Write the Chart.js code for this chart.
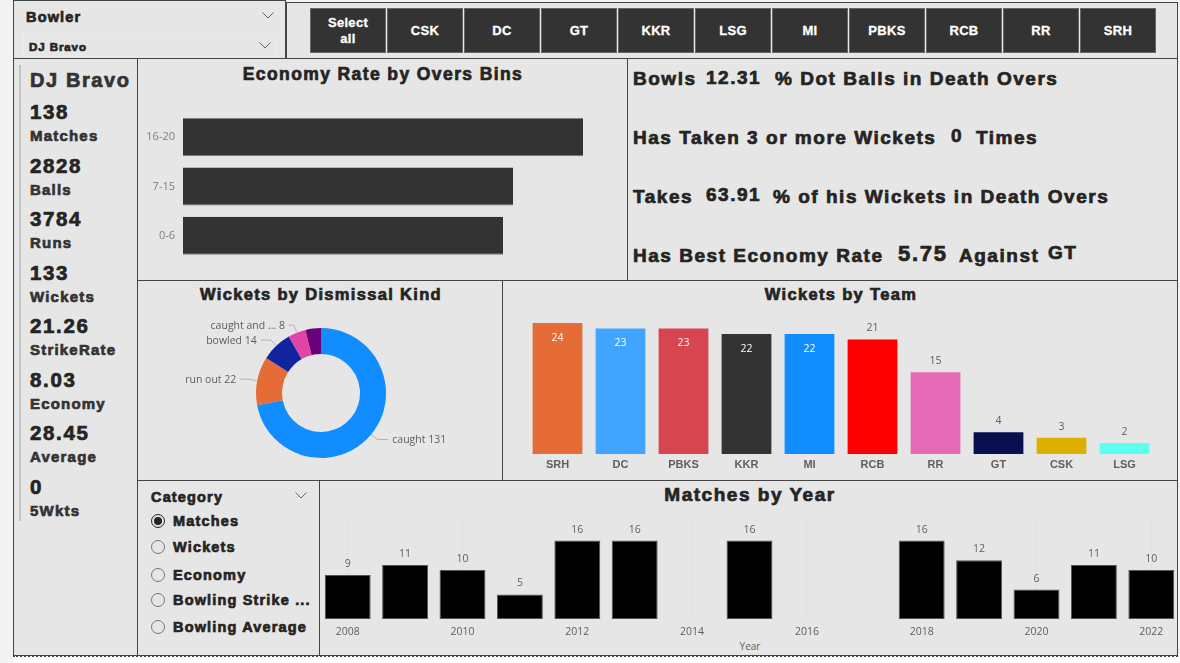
<!DOCTYPE html>
<html>
<head>
<meta charset="utf-8">
<title>DJ Bravo</title>
<script src="https://cdn.jsdelivr.net/npm/chart.js@4"></script>
<style>
html, body { margin: 0; padding: 0; background: #f3f3f2; width: 1180px; height: 663px; overflow: hidden; }
#page { position: absolute; left: 0; top: 0; width: 1180px; height: 663px; font-family: "Liberation Sans", Arial, sans-serif; color: #252423; }
.panel { position: absolute; background: #e6e6e6; border: 1.5px solid #444; box-sizing: border-box; }
.t { position: absolute; white-space: nowrap; font-weight: bold; -webkit-text-stroke: 0.7px currentColor; transform: translateY(-50%); letter-spacing: 0.08em; }
.c { transform: translate(-50%, -50%); }
.btn { position: absolute; top: 8px; height: 45px; background: #333; border: 1px solid #666; box-sizing: border-box; color: #fff; font-weight: bold; font-size: 13px; -webkit-text-stroke: 0.3px #fff; display: flex; align-items: center; justify-content: center; text-align: center; line-height: 16px; letter-spacing: 0.3px; padding: 0 14px; }
.radio { position: absolute; width: 14px; height: 14px; border: 1px solid #777; border-radius: 50%; box-sizing: border-box; }
canvas { position: absolute; }
.chev { position: absolute; width: 12px; height: 7px; }
</style>
</head>
<body>
<div id="page"></div>
<script>
// values
const playerName = 'DJ Bravo';
const kpiValues = ['138', '2828', '3784', '133', '21.26', '8.03', '28.45', '0'];
const kpiLabels = ['Matches', 'Balls', 'Runs', 'Wickets', 'StrikeRate', 'Economy', 'Average', '5Wkts'];
const teamButtons = ['Select all', 'CSK', 'DC', 'GT', 'KKR', 'LSG', 'MI', 'PBKS', 'RCB', 'RR', 'SRH'];
const categoryOptions = ['Matches', 'Wickets', 'Economy', 'Bowling Strike ...', 'Bowling Average'];

const overBins = ['16-20', '7-15', '0-6'];
const overEconomy = [9.6, 7.92, 7.68];

const dismissalKinds = ['caught', 'run out', 'bowled', 'caught and ...', 'lbw'];
const dismissalWickets = [131, 22, 14, 8, 7];
const dismissalColors = ['#118DFF', '#E66C37', '#12239E', '#E044A7', '#6B007B'];

const teams = ['SRH', 'DC', 'PBKS', 'KKR', 'MI', 'RCB', 'RR', 'GT', 'CSK', 'LSG'];
const teamWickets = [24, 23, 23, 22, 22, 21, 15, 4, 3, 2];
const teamColors = ['#E66C37', '#41A5FF', '#D64550', '#333333', '#118DFF', '#FF0000', '#E66BB7', '#0A0F50', '#DDB000', '#5CFFF0'];

const years = ['2008', '2009', '2010', '2011', '2012', '2013', '2014', '2015', '2016', '2017', '2018', '2019', '2020', '2021', '2022'];
const yearMatches = [9, 11, 10, 5, 16, 16, null, 16, null, null, 16, 12, 6, 11, 10];

const page = document.getElementById('page');

function panel(x, y, w, h) {
    const d = document.createElement('div');
    d.className = 'panel';
    d.style.cssText = `left:${x}px;top:${y}px;width:${w}px;height:${h}px`;
    page.appendChild(d);
}

function text(str, x, y, size, center, color) {
    const d = document.createElement('div');
    d.className = center ? 't c' : 't';
    d.textContent = str;
    d.style.cssText = `left:${x}px;top:${y}px;font-size:${size}px` + (color ? `;color:${color}` : '');
    page.appendChild(d);
    return d;
}

function chevron(x, y) {
    const s = document.createElementNS('http://www.w3.org/2000/svg', 'svg');
    s.setAttribute('class', 'chev');
    s.style.left = x + 'px';
    s.style.top = y + 'px';
    s.innerHTML = '<path d="M0.5 0.5 L6 6 L11.5 0.5" fill="none" stroke="#666" stroke-width="1"/>';
    page.appendChild(s);
}

function addCanvas(x, y, w, h) {
    const wrap = document.createElement('div');
    wrap.style.cssText = `position:absolute;left:${x}px;top:${y}px;width:${w}px;height:${h}px`;
    const c = document.createElement('canvas');
    wrap.appendChild(c);
    page.appendChild(wrap);
    return c;
}

// panels
panel(13, 0, 273, 59);
panel(286, 2, 892, 57);
panel(13, 58, 125, 598);
panel(137, 58, 491, 223);
panel(627, 58, 551, 223);
panel(137, 280, 366, 201);
panel(502, 280, 676, 201);
panel(137, 480, 183, 176);
panel(319, 480, 859, 176);

// bottom dotted edge, white below it
const strip = document.createElement('div');
strip.style.cssText = 'position:absolute;left:13px;top:656px;width:1167px;height:7px;background:#fff';
page.appendChild(strip);
const dots = document.createElement('div');
dots.style.cssText = 'position:absolute;left:13px;top:655px;width:1165px;height:0;border-top:2px dotted #444';
page.appendChild(dots);

// bowler slicer
text('Bowler', 26, 17, 14.5);
chevron(262, 12);
const drop = document.createElement('div');
drop.style.cssText = 'position:absolute;left:23px;top:33px;width:253px;height:24px;border:1px solid #ebebeb;box-sizing:border-box';
page.appendChild(drop);
text(playerName, 29, 47, 11.5);
chevron(259, 42);

// team buttons
teamButtons.forEach((name, i) => {
    const d = document.createElement('div');
    d.className = 'btn';
    d.textContent = name;
    d.style.left = (310 + i * 77) + 'px';
    d.style.width = '76px';
    page.appendChild(d);
});

// kpi column
const rule = document.createElement('div');
rule.style.cssText = 'position:absolute;left:19px;top:65px;width:2px;height:456px;background:#c4c4c4';
page.appendChild(rule);
text(playerName, 30, 80, 20, false, '#333');
kpiValues.forEach((v, i) => {
    const y = 112 + i * 53.5;
    text(v, 30, y, 20.5);
    text(kpiLabels[i], 30, y + 23, 15, false, '#333');
});

// titles
text('Economy Rate by Overs Bins', 383, 74, 17.5, true);
text('Wickets by Dismissal Kind', 321, 294, 16.5, true);
text('Wickets by Team', 841, 294, 16.5, true);
text('Matches by Year', 750, 495, 19, true);

// sentence panel
const sentences = [
    [['Bowls', 633, 79, 19], ['12.31', 706, 78, 19], ['% Dot Balls in Death Overs', 775, 79, 19]],
    [['Has Taken 3 or more Wickets', 633, 138, 19], ['0', 951, 136, 19], ['Times', 976, 138, 19]],
    [['Takes', 633, 197, 19], ['63.91', 706, 195, 19], ['% of his Wickets in Death Overs', 773, 197, 19]],
    [['Has Best Economy Rate', 633, 256, 19], ['5.75', 898, 254, 22], ['Against', 959, 256, 19], ['GT', 1048, 253, 19]]
];
sentences.forEach(line => line.forEach(p => text(p[0], p[1], p[2], p[3])));

// category slicer
text('Category', 151, 497, 14.5);
chevron(295, 492);
categoryOptions.forEach((name, i) => {
    const y = [521, 547, 575, 600, 627][i];
    const r = document.createElement('div');
    r.className = 'radio';
    r.style.left = '151px';
    r.style.top = (y - 7) + 'px';
    if (i === 0) {
        r.style.border = '1px solid #252423';
        r.innerHTML = '<div style="position:absolute;left:2px;top:2px;width:8px;height:8px;border-radius:50%;background:#252423"></div>';
    }
    page.appendChild(r);
    text(name, 173, y, 14.5);
});

text('Year', 750, 646, 10, true, '#605E5C').style.cssText += ';font-weight:normal;-webkit-text-stroke:0;font-family:"Open Sans";letter-spacing:0';

Chart.defaults.animation = false;
Chart.defaults.responsive = true;
Chart.defaults.maintainAspectRatio = false;
Chart.defaults.font.family = '"Open Sans", sans-serif';
Chart.defaults.plugins.legend.display = false;
Chart.defaults.plugins.tooltip.enabled = false;

// value labels above bars, or inside when a bar is tall enough (insideFrom)
function barLabels(insideFrom) {
    return {
        id: 'barLabels',
        afterDatasetsDraw(chart) {
            const ctx = chart.ctx;
            const values = chart.data.datasets[0].data;
            ctx.save();
            ctx.font = '10.5px "Open Sans"';
            ctx.textAlign = 'center';
            ctx.textBaseline = 'middle';
            chart.getDatasetMeta(0).data.forEach((bar, i) => {
                if (values[i] === null) return;
                const inside = values[i] >= insideFrom;
                ctx.fillStyle = inside ? '#fff' : '#605E5C';
                ctx.fillText(values[i], bar.x, inside ? bar.y + 15 : bar.y - 11);
            });
            ctx.restore();
        }
    };
}

// leader lines and labels around the donut, the last slice has none
const leaderRuns = [11, 9, 10, 5];
const donutLabels = {
    id: 'donutLabels',
    afterDatasetsDraw(chart) {
        const ctx = chart.ctx;
        ctx.save();
        ctx.font = '10.5px "Open Sans"';
        ctx.textBaseline = 'middle';
        chart.getDatasetMeta(0).data.forEach((arc, i) => {
            if (i === dismissalKinds.length - 1) return;
            const a = (arc.startAngle + arc.endAngle) / 2;
            const r = arc.outerRadius;
            const sx = arc.x + Math.cos(a) * r, sy = arc.y + Math.sin(a) * r;
            const ex = arc.x + Math.cos(a) * (r + 8), ey = arc.y + Math.sin(a) * (r + 8);
            const right = Math.cos(a) > 0;
            const tx = ex + (right ? leaderRuns[i] : -leaderRuns[i]);
            ctx.strokeStyle = '#b5b5b5';
            ctx.beginPath();
            ctx.moveTo(sx, sy);
            ctx.lineTo(ex, ey);
            ctx.lineTo(tx, ey);
            ctx.stroke();
            ctx.fillStyle = '#605E5C';
            ctx.textAlign = right ? 'left' : 'right';
            ctx.fillText(dismissalKinds[i] + ' ' + dismissalWickets[i], tx + (right ? 4 : -4), ey + 1);
        });
        ctx.restore();
    }
};

function fixedHeight(h) {
    return function (scale) { scale.height = h; };
}

// economy by overs
new Chart(addCanvas(139, 98, 486, 177), {
    type: 'bar',
    data: {
        labels: overBins,
        datasets: [{ data: overEconomy, backgroundColor: '#333333', borderColor: '#7a7a7a', borderWidth: { bottom: 1 }, borderSkipped: false, categoryPercentage: 1, barPercentage: 0.775 }]
    },
    options: {
        indexAxis: 'y',
        layout: { padding: { left: 0, right: 42, top: 0, bottom: 0 } },
        scales: {
            x: { display: false, min: 0, max: overEconomy[0] },
            y: {
                grid: { display: false, drawTicks: false }, border: { display: false },
                afterFit(scale) { scale.width = 44; },
                ticks: { color: '#7f7f7f', font: { size: 11 }, padding: 8 }
            }
        }
    }
});

// dismissal donut
new Chart(addCanvas(140, 313, 362, 160), {
    type: 'doughnut',
    data: {
        labels: dismissalKinds,
        datasets: [{ data: dismissalWickets, backgroundColor: dismissalColors, borderWidth: 0 }]
    },
    options: {
        cutout: '60%',
        radius: 65,
        layout: { padding: { left: 0, right: 0, top: 0, bottom: 0 } }
    },
    plugins: [donutLabels]
});

// wickets by team
new Chart(addCanvas(526, 300, 630, 175), {
    type: 'bar',
    data: {
        labels: teams,
        datasets: [{ data: teamWickets, backgroundColor: teamColors, categoryPercentage: 1, barPercentage: 0.79 }]
    },
    options: {
        layout: { padding: { top: 23, bottom: 0 } },
        scales: {
            x: {
                grid: { display: false, drawTicks: false }, border: { display: false },
                afterFit: fixedHeight(21),
                ticks: { color: '#605E5C', font: { size: 11, weight: 'bold', family: '"Liberation Sans"' }, maxRotation: 0, padding: 4 }
            },
            y: { display: false, min: 0, max: 24 }
        }
    },
    plugins: [barLabels(22)]
});

// matches by year
new Chart(addCanvas(319, 511, 861, 130), {
    type: 'bar',
    data: {
        labels: years,
        datasets: [{ data: yearMatches, backgroundColor: '#000000', borderColor: '#555', borderWidth: 1, borderSkipped: false, categoryPercentage: 1, barPercentage: 0.8 }]
    },
    options: {
        layout: { padding: { top: 10, bottom: 0 } },
        scales: {
            x: {
                grid: {
                    color: (c) => (c.index % 2 === 0 ? '#cfcfcf' : 'transparent'),
                    drawTicks: false, offset: false, lineWidth: 1
                },
                border: { display: false, dash: [1, 3] },
                afterFit: fixedHeight(22),
                ticks: {
                    color: '#605E5C', font: { size: 10.5 }, maxRotation: 0, padding: 7, autoSkip: false,
                    callback(v, i) { return i % 2 === 0 ? years[i] : ''; }
                }
            },
            y: { display: false, min: 0, max: 20 }
        }
    },
    plugins: [barLabels(Infinity)]
});
</script>
</body>
</html>
